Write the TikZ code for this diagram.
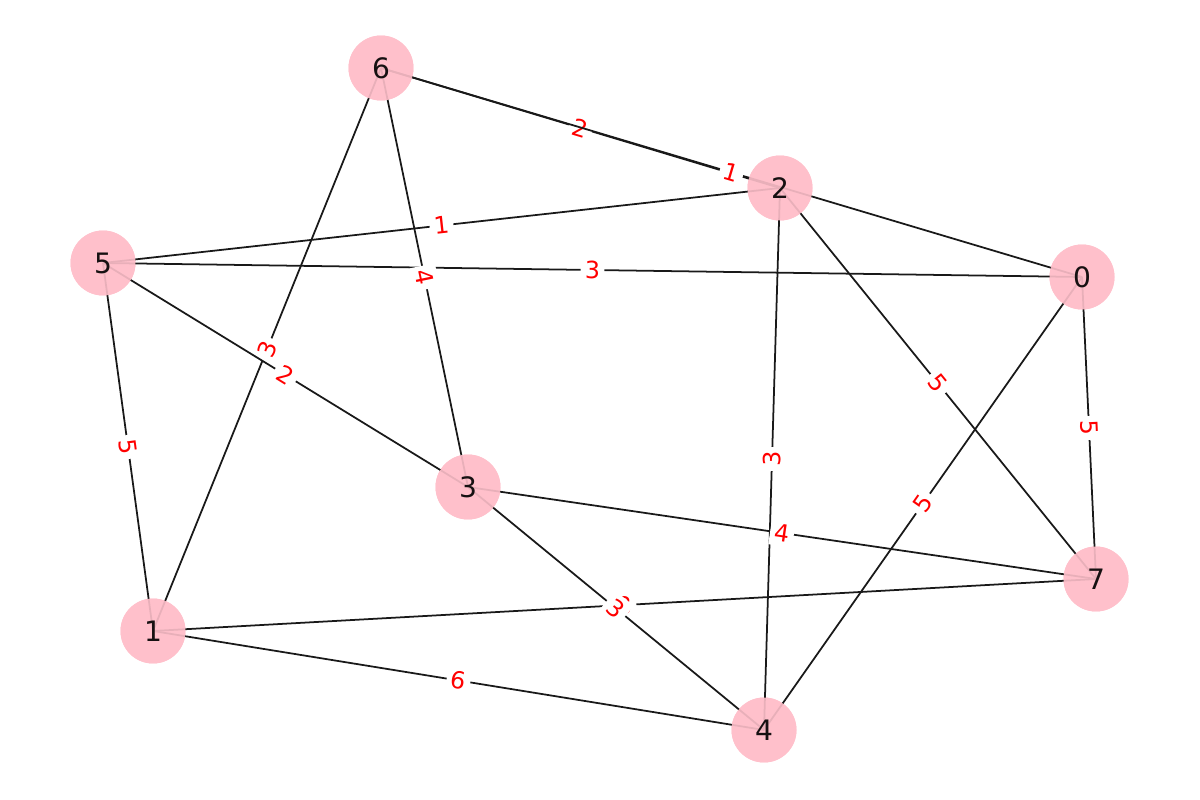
\documentclass[tikz,border=0pt]{standalone}
\usepackage{fontspec}
\setmainfont{DejaVu Sans}
\usetikzlibrary{positioning}
\definecolor{nodepink}{RGB}{255,192,203}
\tikzstyle{vertex}=[circle, fill=nodepink, minimum size=1.3cm, inner sep=0pt, font=\fontsize{16}{16}\selectfont]
\tikzstyle{weight}=[midway, sloped, fill=white, inner sep=2.5pt, text=red, font=\fontsize{13.5}{14}\selectfont]
\tikzstyle{link}=[draw=black!90, line width=1pt]

\begin{document}
\begin{tikzpicture}[x=0.02cm, y=-0.02cm]
    \useasboundingbox (0,0) rectangle (1200,800);
    \node[vertex] (n6) at (381,68) {6};
    \node[vertex] (n2) at (780,188) {2};
    \node[vertex] (n5) at (103,263) {5};
    \node[vertex] (n0) at (1082,277) {0};
    \node[vertex] (n3) at (468,487) {3};
    \node[vertex] (n7) at (1096,579) {7};
    \node[vertex] (n1) at (153,631) {1};
    \node[vertex] (n4) at (764,730) {4};

    \foreach \a/\b/\w in {n6/n2/2, n6/n0/1, n5/n2/1, n5/n0/3, n6/n3/4, n6/n1/3,
        n5/n3/2, n5/n1/5, n2/n4/3, n2/n7/5, n0/n7/5, n0/n4/5, n3/n7/4,
        n1/n7/3, n3/n4/3, n1/n4/6}
      \draw[link] (\a.center) -- node[weight] {\w} (\b.center);

    % redraw nodes on top of the edges
    \foreach \n/\p in {6/{381,68}, 2/{780,188}, 5/{103,263}, 0/{1082,277},
        3/{468,487}, 7/{1096,579}, 1/{153,631}, 4/{764,730}}
      \node[vertex, opacity=0.9] at (\p) {\n};
\end{tikzpicture}
\end{document}
